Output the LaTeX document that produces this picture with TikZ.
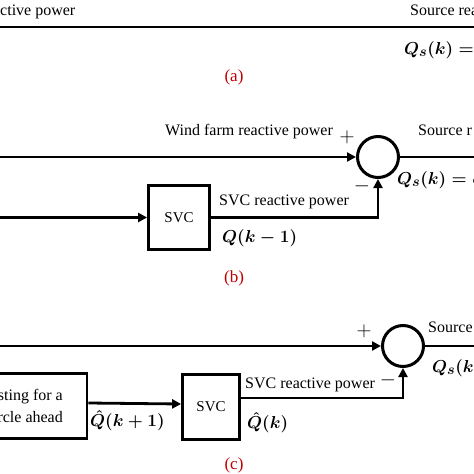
\documentclass[tikz,border=0pt]{standalone}
\usepackage{fontspec}
\setmainfont{Liberation Serif}
\usetikzlibrary{arrows.meta}
\definecolor{capred}{RGB}{192,0,0}
\begin{document}
\begin{tikzpicture}[x=1pt,y=-1pt,
  wire/.style={line width=2.8pt},
  arr/.style={wire,-{Triangle[length=9pt,width=9pt]}},
  blk/.style={draw,line width=2.8pt,inner sep=0pt,font=\fontsize{15}{17}\selectfont},
  sumc/.style={draw,circle,line width=3pt,minimum size=41pt,inner sep=0pt},
  lbl/.style={font=\fontsize{16}{18}\selectfont,inner sep=0pt},
  sgn/.style={font=\fontsize{20}{22}\selectfont,inner sep=0pt},
  mth/.style={font=\fontsize{19}{21}\selectfont\boldmath,inner sep=0pt},
  panellbl/.style={font=\fontsize{17}{19}\selectfont,text=capred,inner sep=0pt}]
\useasboundingbox (0,0) rectangle (474,474);
% ---- panel (a)
\node[lbl,anchor=base west] (al) at (0,15) {ctive power};
\node[lbl,anchor=base west] (asr) at (410,15) {Source rea};
\coordinate (ain) at (0,27);
\coordinate (aout) at (474,27);
\draw[wire] (ain) -- (aout);
\node[mth,anchor=west] (aqs) at (404,50) {$Q_s(k)=$};
\node[panellbl] (la) at (234,77) {(a)};
% ---- panel (b)
\node[sumc] (sb) at (378,157) {};
\coordinate (bin1) at (0,157);
\coordinate (bout) at (474,157);
\draw[arr] (bin1) -- (sb.west);
\draw[wire] (sb.east) -- (bout);
\node[blk,minimum width=61pt,minimum height=64pt] (svcb) at (179,217.5) {SVC};
\coordinate (bin2) at (0,217.5);
\draw[arr] (bin2) -- (svcb.west);
\draw[arr] (svcb.east) -| (sb.south);
\node[lbl,anchor=base west] (wf) at (165,135) {Wind farm reactive power};
\node[sgn] (pb) at (347,137) {$+$};
\node[lbl,anchor=base west] (srb) at (418,135) {Source r};
\node[mth,anchor=base west] (qsb) at (397,184) {$Q_s(k)=\epsilon$};
\node[lbl,anchor=base west] (svcbl) at (219,205) {SVC reactive power};
\node[sgn] (mb) at (362,186) {$-$};
\node[mth,anchor=west] (qb) at (222,238) {$Q(k-1)$};
\node[panellbl] (lb) at (234,278) {(b)};
% ---- panel (c)
\node[sumc] (sc) at (403,346) {};
\coordinate (cin) at (0,346);
\coordinate (cout) at (474,346);
\draw[arr] (cin) -- (sc.west);
\draw[wire] (sc.east) -- (cout);
\node[blk,minimum width=150pt,minimum height=65pt] (fc) at (12,406) {};
\node[lbl,anchor=east] (fct1) at (63,397) {sting for a};
\node[lbl,anchor=east] (fct2) at (63,417) {rcle ahead};
\node[blk,minimum width=57pt,minimum height=65pt] (svcc) at (211,407) {SVC};
\draw[arr] ([yshift=3pt]fc.east) -- ([yshift=3pt]svcc.west);
\draw[arr] ([yshift=9pt]svcc.east) -| (sc.south);
\node[sgn] (pc) at (364,331) {$+$};
\node[lbl,anchor=base west] (src) at (428,332) {Source};
\node[mth,anchor=west] (qsc) at (432,368) {$Q_s(k)$};
\node[lbl,anchor=base west] (svccl) at (245,388) {SVC reactive power};
\node[sgn] (mc) at (388,380) {$-$};
\node[mth,anchor=west] (qh1) at (90,421) {$\hat{Q}(k+1)$};
\node[mth,anchor=west] (qh2) at (247,423) {$\hat{Q}(k)$};
\node[panellbl] (lc) at (234,465) {(c)};
\end{tikzpicture}
\end{document}
